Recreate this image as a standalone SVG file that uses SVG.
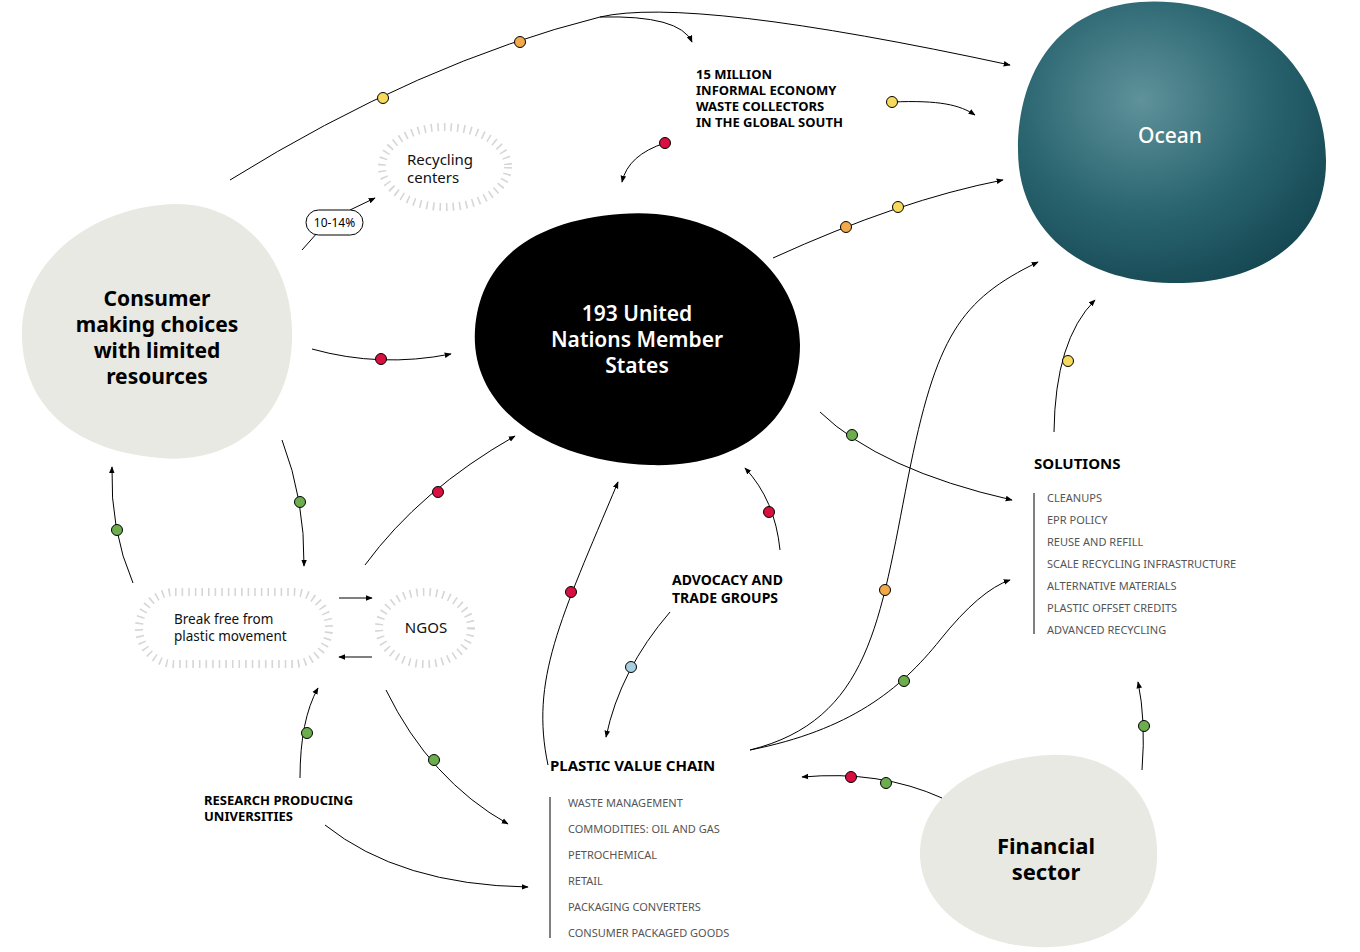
<svg xmlns="http://www.w3.org/2000/svg" width="1360" height="952" viewBox="0 0 1360 952">
<defs>
<marker id="ah" viewBox="0 0 10 10" refX="9" refY="5" markerWidth="7" markerHeight="7" orient="auto-start-reverse"><path d="M0,1 L10,5 L0,9 z" fill="#000"/></marker>
<radialGradient id="sea" cx="0.4" cy="0.35" r="0.8">
<stop offset="0" stop-color="#5f929b"/><stop offset="0.5" stop-color="#2a6570"/><stop offset="1" stop-color="#0f3f4a"/></radialGradient>
<style>
text{font-family:"Noto Sans","Liberation Sans",sans-serif}
.c{fill:none;stroke:#000;stroke-width:1;marker-end:url(#ah)}
.d{stroke:#000;stroke-width:1}
.y{fill:#f7d95c}.o{fill:#f2a94a}.r{fill:#d7103f}.g{fill:#6cae4e}.b{fill:#a8cfe0}
.ring{fill:none;stroke:#d6d6d6;stroke-width:8;stroke-dasharray:1.6 5}
.h{font-weight:700;fill:#000}
.li{font-size:11px;fill:#555}
.blob{fill:#e9e9e4}
</style>
</defs>
<rect width="1360" height="952" fill="#fff"/>
<g id="consumer"><path class="blob" d="M160,205 C240,195 295,260 292,340 C290,420 230,465 160,458 C80,452 20,410 22,330 C24,260 90,212 160,205 Z"/>
<text class="h" font-size="21" text-anchor="middle"><tspan x="157" y="306">Consumer</tspan><tspan x="157" y="332">making choices</tspan><tspan x="157" y="358">with limited</tspan><tspan x="157" y="384">resources</tspan></text></g>
<g id="un"><path d="M620,214 C720,205 800,270 800,345 C800,420 740,468 650,465 C550,462 470,410 475,330 C480,255 540,220 620,214 Z" fill="#000"/>
<text font-size="21" font-weight="600" fill="#fff" text-anchor="middle"><tspan x="637" y="321">193 United</tspan><tspan x="637" y="347">Nations Member</tspan><tspan x="637" y="373">States</tspan></text></g>
<g id="ocean"><path fill="url(#sea)" d="M1140,2 C1240,-5 1325,60 1326,160 C1327,240 1260,285 1170,283 C1080,281 1018,230 1018,150 C1018,70 1060,8 1140,2 Z"/>
<text x="1170" y="143" font-size="21" font-weight="500" fill="#fff" text-anchor="middle">Ocean</text></g>
<g id="financial"><path class="blob" d="M1050,755 C1120,752 1160,800 1157,860 C1154,920 1100,950 1035,947 C970,944 918,905 920,850 C922,795 980,758 1050,755 Z"/>
<text class="h" font-size="22" font-weight="600" text-anchor="middle"><tspan x="1046" y="854">Financial</tspan><tspan x="1046" y="880">sector</tspan></text></g>
<g id="recycling"><ellipse class="ring" cx="445" cy="167" rx="63" ry="40"/><text font-size="15" fill="#111"><tspan x="407" y="165">Recycling</tspan><tspan x="407" y="183">centers</tspan></text></g>
<g id="breakfree"><rect class="ring" x="139" y="592" width="190" height="72" rx="36"/><text font-size="13.5" fill="#111"><tspan x="174" y="624">Break free from</tspan><tspan x="174" y="641">plastic movement</tspan></text></g>
<g id="ngos"><ellipse class="ring" cx="425" cy="628" rx="46" ry="36"/><text x="426" y="633" font-size="15" fill="#111" text-anchor="middle">NGOS</text></g>
<g id="collectors"><text class="h" font-size="13"><tspan x="696" y="79">15 MILLION</tspan><tspan x="696" y="95">INFORMAL ECONOMY</tspan><tspan x="696" y="111">WASTE COLLECTORS</tspan><tspan x="696" y="127">IN THE GLOBAL SOUTH</tspan></text></g>
<g id="solutions"><text class="h" x="1034" y="469" font-size="15">SOLUTIONS</text><line x1="1034" y1="493" x2="1034" y2="634" stroke="#000"/>
<text class="li"><tspan x="1047" y="502">CLEANUPS</tspan><tspan x="1047" y="524">EPR POLICY</tspan><tspan x="1047" y="546">REUSE AND REFILL</tspan><tspan x="1047" y="568">SCALE RECYCLING INFRASTRUCTURE</tspan><tspan x="1047" y="590">ALTERNATIVE MATERIALS</tspan><tspan x="1047" y="612">PLASTIC OFFSET CREDITS</tspan><tspan x="1047" y="634">ADVANCED RECYCLING</tspan></text></g>
<g id="valuechain"><text class="h" x="550" y="771" font-size="15">PLASTIC VALUE CHAIN</text><line x1="550" y1="797" x2="550" y2="938" stroke="#000"/>
<text class="li"><tspan x="568" y="807">WASTE MANAGEMENT</tspan><tspan x="568" y="833">COMMODITIES: OIL AND GAS</tspan><tspan x="568" y="859">PETROCHEMICAL</tspan><tspan x="568" y="885">RETAIL</tspan><tspan x="568" y="911">PACKAGING CONVERTERS</tspan><tspan x="568" y="937">CONSUMER PACKAGED GOODS</tspan></text></g>
<g id="advocacy"><text class="h" font-size="14"><tspan x="672" y="585">ADVOCACY AND</tspan><tspan x="672" y="603">TRADE GROUPS</tspan></text></g>
<g id="research"><text class="h" font-size="13"><tspan x="204" y="805">RESEARCH PRODUCING</tspan><tspan x="204" y="821">UNIVERSITIES</tspan></text></g>
<g id="connectors">
<path class="c" d="M230,180 Q420,62 600,17 Q690,-4 1010,65"/>
<path class="c" d="M600,17 Q680,15 692,42"/>
<path class="c" d="M302,250 L318,232 M350,210 L375,198"/>
<rect x="306" y="210" width="57" height="25" rx="12.5" fill="#fff" stroke="#000"/>
<text x="334.5" y="227" font-size="12" text-anchor="middle">10-14%</text>
<path class="c" d="M892,102 C940,100 960,105 975,115"/>
<path class="c" d="M665,143 Q628,155 622,182"/>
<path class="c" d="M312,349 Q380,368 451,354"/>
<path class="c" d="M773,258 Q900,200 1003,180"/>
<path class="c" d="M820,412 Q880,470 1012,500"/>
<path class="c" d="M1054,432 Q1055,340 1095,300"/>
<path class="c" d="M750,750 C870,720 880,620 908,478 S960,300 1038,262"/>
<path class="c" d="M750,750 C850,730 900,690 940,640 Q980,590 1010,580"/>
<path class="c" d="M1142,770 Q1146,720 1138,682"/>
<path class="c" d="M942,798 Q880,770 802,777"/>
<path class="c" d="M548,765 C530,680 560,620 618,482"/>
<path class="c" d="M780,550 Q775,500 745,468"/>
<path class="c" d="M670,612 Q620,670 606,737"/>
<path class="c" d="M365,565 Q420,490 515,436"/>
<path class="c" d="M282,440 Q305,500 304,566"/>
<path class="c" d="M133,583 Q110,530 112,467"/>
<path class="c" d="M339,598 L372,598"/>
<path class="c" d="M372,657 L339,657"/>
<path class="c" d="M300,778 Q300,720 318,688"/>
<path class="c" d="M386,690 Q430,780 508,824"/>
<path class="c" d="M325,825 Q400,885 528,887"/>
<g class="d">
<circle class="y" cx="383" cy="98" r="5.5"/><circle class="o" cx="520" cy="42" r="5.5"/>
<circle class="y" cx="892" cy="102" r="5.5"/><circle class="r" cx="665" cy="143" r="5.5"/>
<circle class="r" cx="381" cy="359" r="5.5"/><circle class="o" cx="846" cy="227" r="5.5"/>
<circle class="y" cx="898" cy="207" r="5.5"/><circle class="g" cx="852" cy="435" r="5.5"/>
<circle class="y" cx="1068" cy="361" r="5.5"/><circle class="o" cx="885" cy="590" r="5.5"/>
<circle class="g" cx="904" cy="681" r="5.5"/><circle class="g" cx="1144" cy="726" r="5.5"/>
<circle class="g" cx="886" cy="783" r="5.5"/><circle class="r" cx="851" cy="777" r="5.5"/>
<circle class="r" cx="571" cy="592" r="5.5"/><circle class="r" cx="769" cy="512" r="5.5"/>
<circle class="b" cx="631" cy="667" r="5.5"/><circle class="r" cx="438" cy="492" r="5.5"/>
<circle class="g" cx="300" cy="502" r="5.5"/><circle class="g" cx="117" cy="530" r="5.5"/>
<circle class="g" cx="307" cy="733" r="5.5"/><circle class="g" cx="434" cy="760" r="5.5"/>
</g>
</g>
</svg>
